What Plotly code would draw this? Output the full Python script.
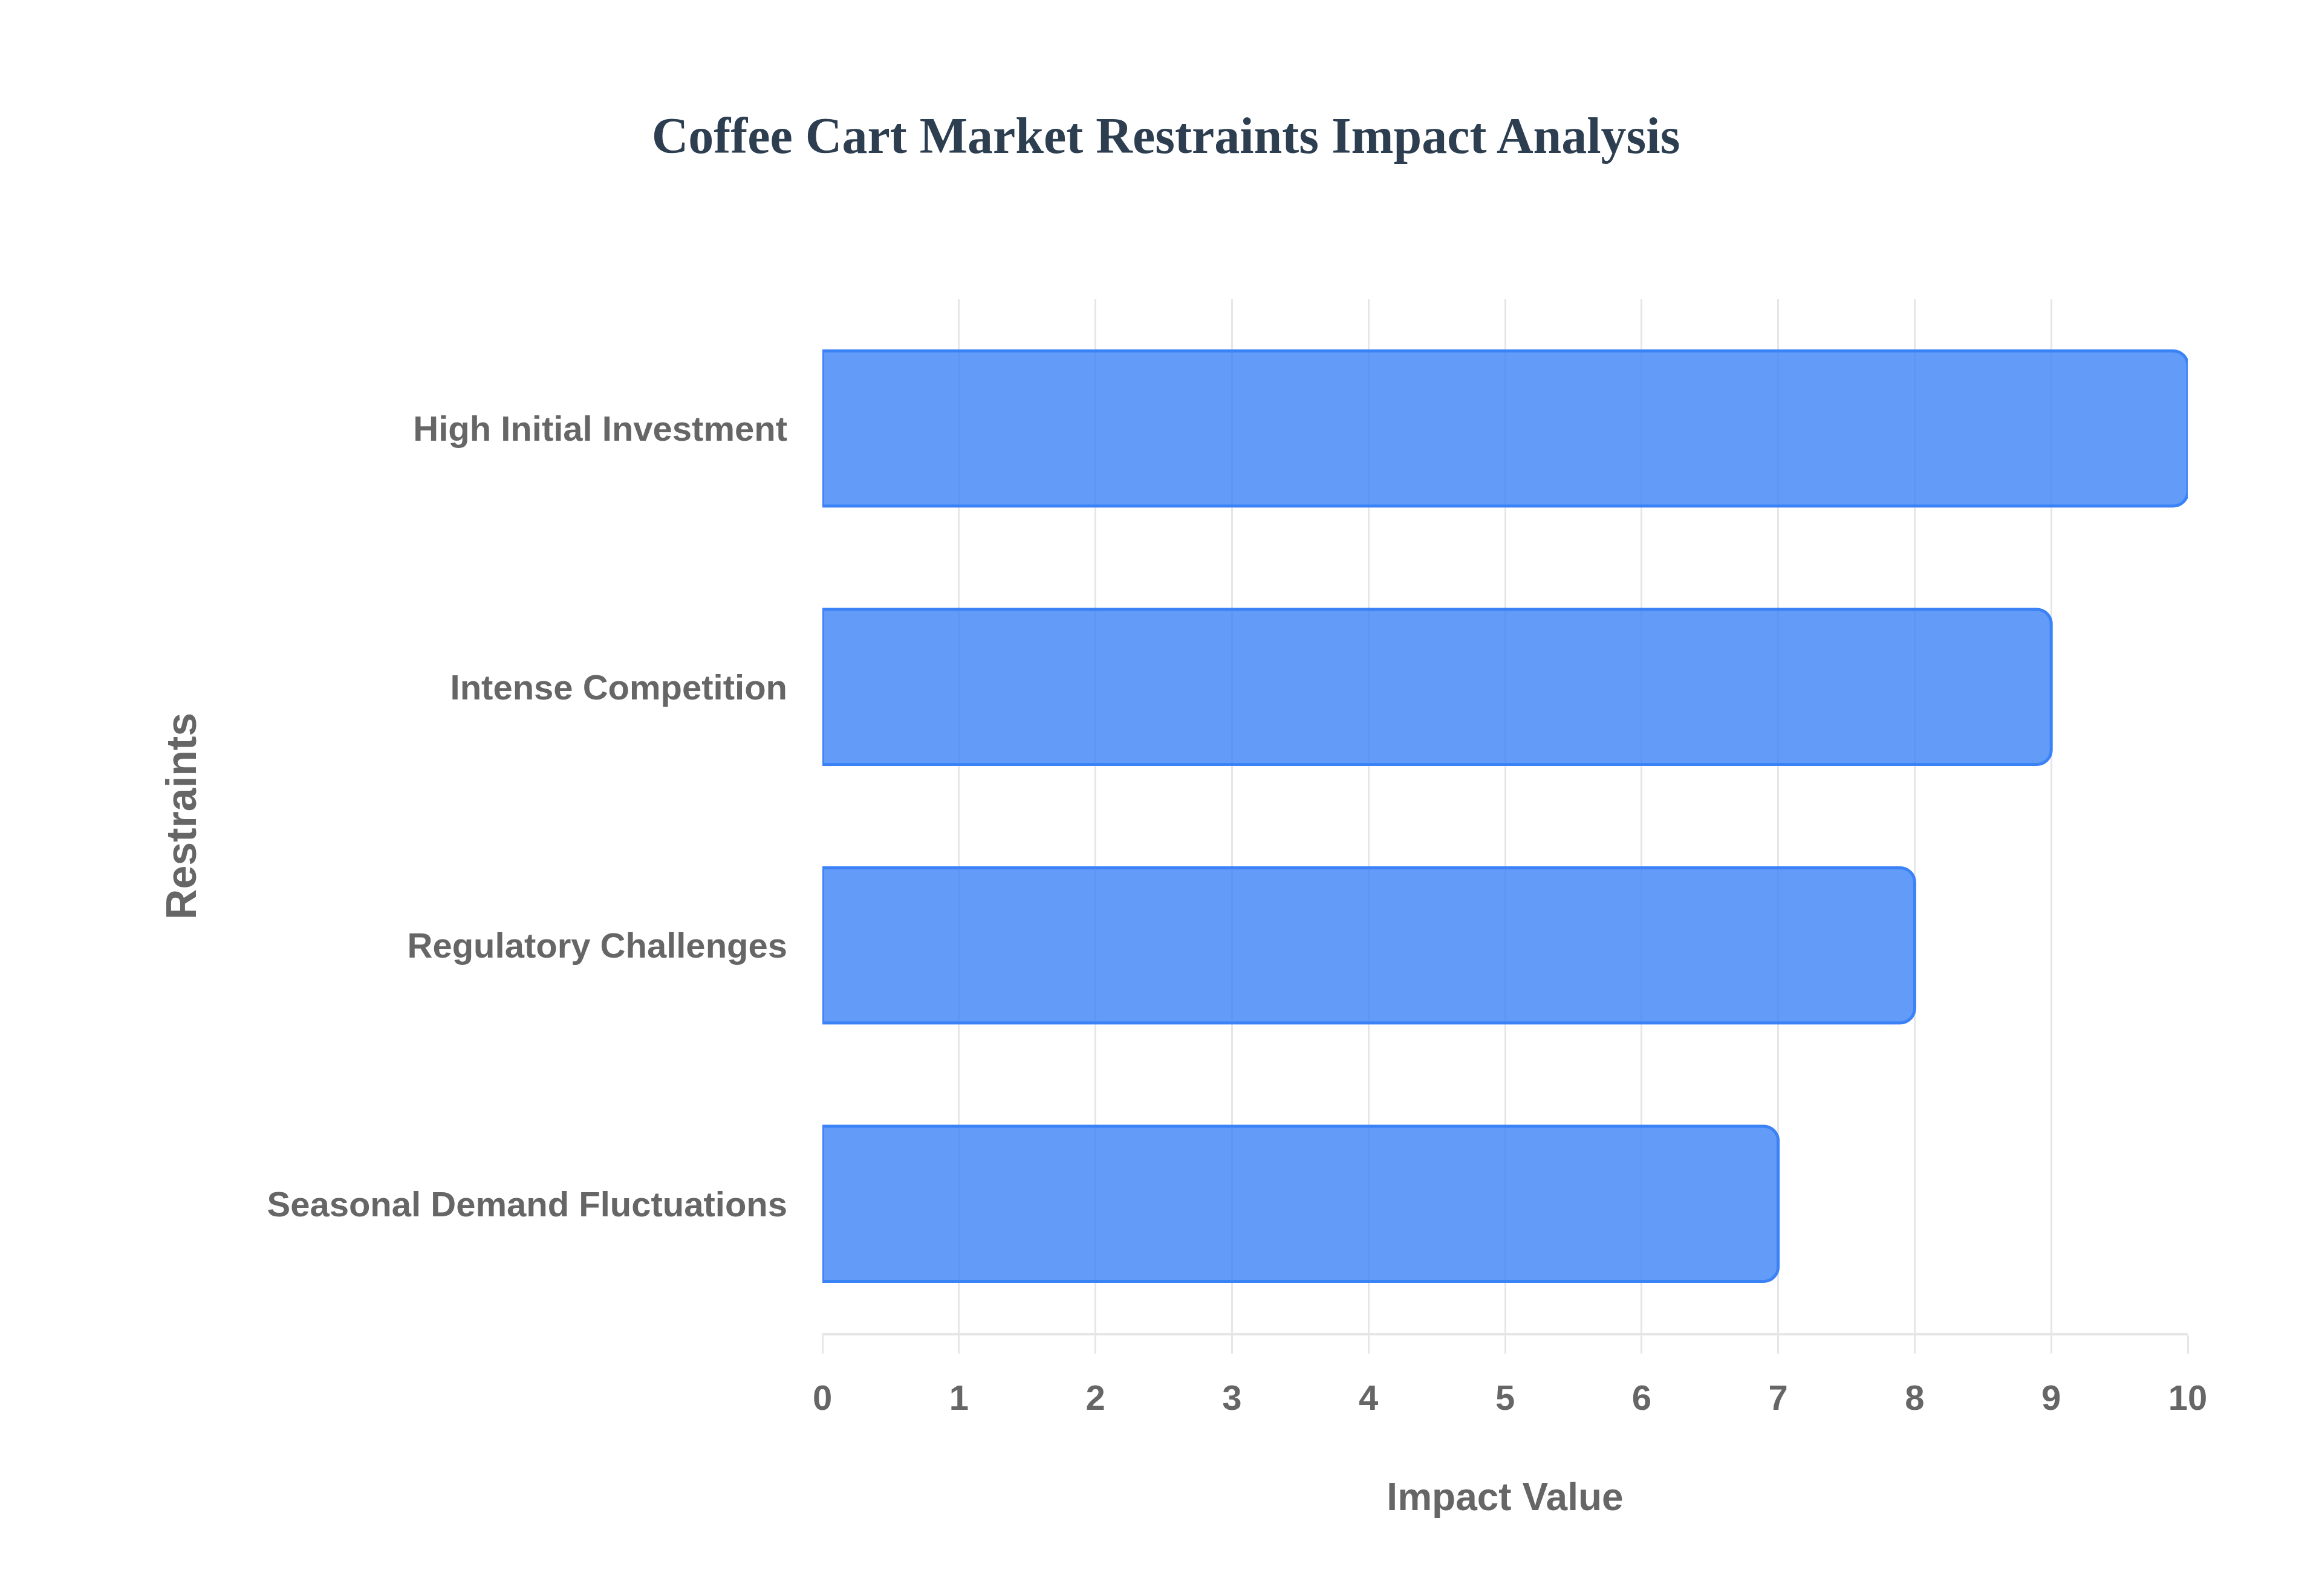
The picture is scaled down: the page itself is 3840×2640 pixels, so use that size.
import plotly.graph_objects as go

# Data
restraints = [
    'Seasonal Demand Fluctuations',
    'Regulatory Challenges',
    'Intense Competition',
    'High Initial Investment',
]
impact_values = [7, 8, 9, 10]

COLORS = {
    'bar': 'rgba(59, 130, 246, 0.8)',
    'bar_line': 'rgb(59, 130, 246)',
    'title': '#2C3E50',
    'text': '#666666',
    'grid': '#E6E6E6',
}
FONT_SANS = 'Liberation Sans, Arial, sans-serif'

fig = go.Figure()

fig.add_trace(
    go.Bar(
        x=impact_values,
        y=restraints,
        orientation='h',
        marker=dict(
            color=COLORS['bar'],
            line=dict(color=COLORS['bar_line'], width=5),
            cornerradius=24,
        ),
        hovertemplate='<b>%{y}</b><br>Impact: %{x}<extra></extra>',
    )
)

fig.update_xaxes(
    title=dict(text='<b>Impact Value</b>', font=dict(size=64, color=COLORS['text'], family=FONT_SANS),
               standoff=112),
    range=[0, 10],
    dtick=1,
    tickfont=dict(size=58, color=COLORS['text'], family=FONT_SANS),
    tickprefix='<b>', ticksuffix='</b>',
    showgrid=True,
    gridcolor=COLORS['grid'],
    gridwidth=3,
    showline=True,
    linecolor=COLORS['grid'],
    linewidth=4,
    ticks='outside',
    ticklen=30,
    tickwidth=3,
    tickcolor=COLORS['grid'],
    ticklabelstandoff=23,
    zeroline=False,
)

fig.update_yaxes(
    title=dict(text='<b>Restraints</b>', font=dict(size=70, color=COLORS['text'], family=FONT_SANS),
               standoff=93),
    tickfont=dict(size=58, color=COLORS['text'], family=FONT_SANS),
    tickprefix='<b>', ticksuffix='</b>',
    showgrid=False,
    showline=False,
    ticks='',
    ticklabelstandoff=57,
)

fig.update_layout(
    title=dict(
        text='<b>Coffee Cart Market Restraints Impact Analysis</b>',
        x=0.5,
        xanchor='center',
        y=1 - 216 / 2640,
        yanchor='middle',
        font=dict(size=84, color=COLORS['title'], family='Liberation Serif, Times New Roman, serif'),
    ),
    width=3840,
    height=2640,
    margin=dict(l=1352, r=230, t=487, b=443, autoexpand=False),
    bargap=0.4,
    plot_bgcolor='white',
    paper_bgcolor='white',
    showlegend=False,
)

fig.write_html('out.html')
